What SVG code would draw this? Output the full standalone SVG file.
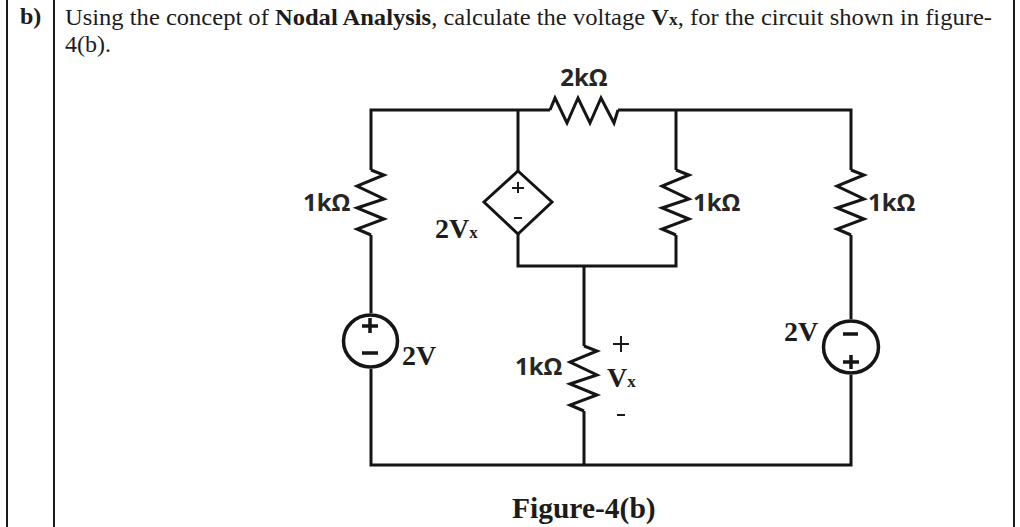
<svg xmlns="http://www.w3.org/2000/svg" width="1020" height="527" viewBox="0 0 1020 527">
<style>
.w{fill:none;stroke:#151515;stroke-width:3;stroke-linejoin:miter}
.f{fill:none;stroke:#1a1a1a;stroke-width:2}
.s{font-family:"Liberation Serif",serif;fill:#1c1c1c}
.b{font-weight:700}
.c{font-family:"Open Sans","Liberation Sans",sans-serif;font-weight:700;font-size:24px;fill:#262626}
.l{fill:none;stroke:#151515;stroke-width:3.5}
</style>
<defs>
<polyline id="rv" class="w" points="0,0 13,5 -14,16 13,29 -14,38 13,49 -14,59 0,65"/>
</defs>
<rect width="1020" height="527" fill="#fff"/>
<g id="frame">
<path class="f" d="M7 0V527M54 0V527M1014 0V527"/>
</g>
<g id="question">
<text class="s b" x="20" y="24" font-size="24">b)</text>
<text class="s" x="65" y="25" font-size="24" textLength="927" lengthAdjust="spacingAndGlyphs">Using the concept of <tspan class="b">Nodal Analysis</tspan>, calculate the voltage <tspan class="b">V</tspan><tspan class="b" font-size="17">x</tspan>, for the circuit shown in figure-</text>
<text class="s" x="65" y="52" font-size="24">4(b).</text>
</g>
<g id="connectors">
<path class="w" d="M371 170V110H550M618 110H851V170M518 110V171M518 234V266H676V235M676 110V170M584 266V346M584 411V465M371 235V313M371 369V465H851V375M851 235V319"/>
</g>
<g id="r-top">
<polyline class="w" points="550,110 555,98 567,123 578,98 590,123 601,98 614,123 618,110"/>
<text class="c" x="584" y="86" text-anchor="middle">2kΩ</text>
</g>
<g id="r-left">
<use href="#rv" x="371" y="170"/>
<text class="c" x="303" y="211">1kΩ</text>
</g>
<g id="r-mid">
<use href="#rv" x="676" y="170"/>
<text class="c" x="693" y="211">1kΩ</text>
</g>
<g id="r-right">
<use href="#rv" x="851" y="170"/>
<text class="c" x="868" y="211">1kΩ</text>
</g>
<g id="r-center">
<use href="#rv" x="584" y="346"/>
<text class="c" x="515" y="375">1kΩ</text>
</g>
<g id="dep-source">
<polygon class="w" points="518,171 552,202 518,234 484,202"/>
<path class="f" d="M518 182V193M512 188H524"/>
<path class="f" stroke-width="2.5" d="M514 218H522"/>
<text class="s b" x="435" y="238" font-size="28">2V<tspan font-size="17">x</tspan></text>
</g>
<g id="v-left">
<ellipse class="l" cx="370.500" cy="341" rx="27" ry="26"/>
<path class="l" d="M370 318V333M362 326H378M362 353H378"/>
<text class="s b" x="402" y="365" font-size="28">2V</text>
</g>
<g id="v-right">
<ellipse class="l" cx="851" cy="347" rx="27.500" ry="26"/>
<path class="l" d="M843 334H858M851 355V369M843 362H859"/>
<text class="s b" x="784" y="341" font-size="28">2V</text>
</g>
<g id="vx-label">
<path class="f" d="M621 336V352M613 344H629"/>
<path class="f" stroke-width="3" d="M617 415H625"/>
<text class="s b" x="607" y="387" font-size="28">V<tspan font-size="17">x</tspan></text>
</g>
<g id="caption">
<text class="s b" x="512" y="518" font-size="29.500">Figure-4(b)</text>
</g>
</svg>
